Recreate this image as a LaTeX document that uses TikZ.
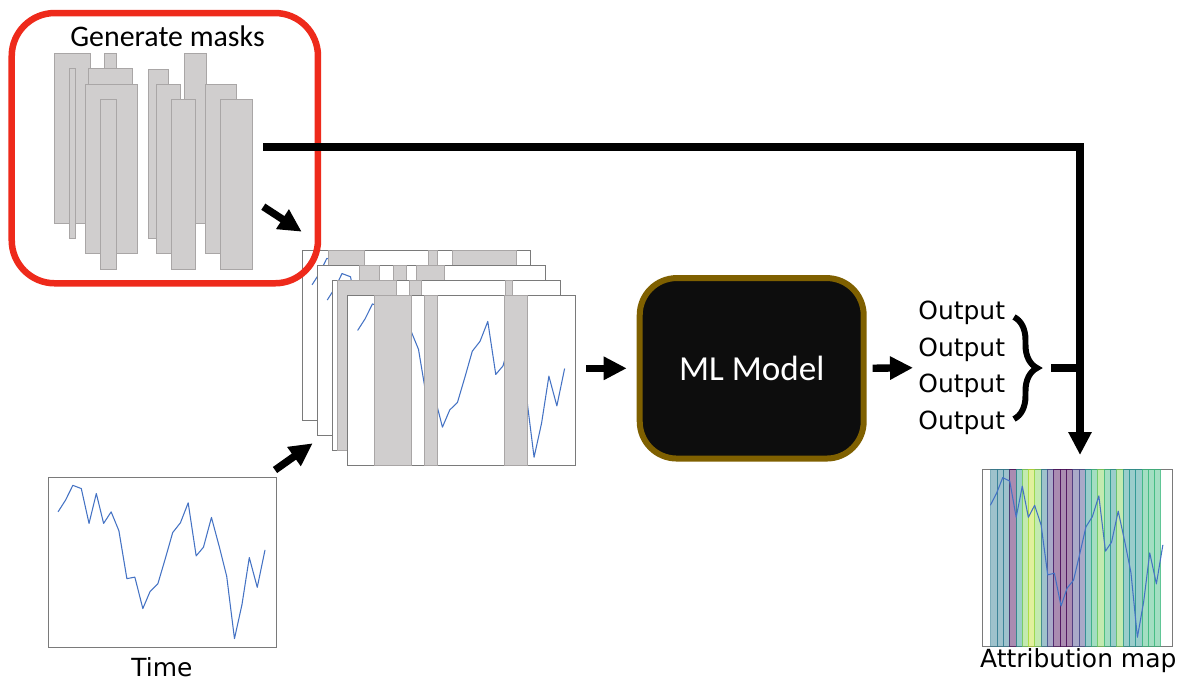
\documentclass[tikz,border=0pt]{standalone}
\usepackage{fontspec}
\setmainfont{Carlito}
\newfontfamily\djv{DejaVu Sans}
\usetikzlibrary{arrows.meta, decorations.pathreplacing, calc}

\definecolor{maskfill}{HTML}{D0CECE}
\definecolor{maskline}{HTML}{A9A6A6}
\definecolor{tsblue}{HTML}{4472C4}
\definecolor{panelgray}{HTML}{7A7A7A}
\definecolor{maskred}{HTML}{EE2A1B}
\definecolor{modelgold}{HTML}{7F6000}
\definecolor{modelfill}{HTML}{0D0D0D}
\definecolor{vpurple}{HTML}{440154}
\definecolor{vlav}{HTML}{414487}
\definecolor{vblue}{HTML}{2A788E}
\definecolor{vteal}{HTML}{21918C}
\definecolor{vgreen}{HTML}{35B779}
\definecolor{vlgreen}{HTML}{7AD151}
\definecolor{vyellow}{HTML}{BDDF26}

\tikzset{
  maskbar/.style={fill=maskfill, draw=maskline, line width=0.5pt},
  panel/.style={draw=panelgray, fill=white, line width=0.5pt, minimum width=4.56cm, minimum height=3.4cm, inner sep=0pt, outer sep=0pt, anchor=north west},
  tsstroke/.style={draw=tsblue, line width=0.6pt, line join=round},
  stripe/.style={fill=#1, draw=#1, fill opacity=0.45, draw opacity=0.6, line width=0.4pt},
  conn/.style={line width=4.2pt},
  arr/.style={line width=4.2pt, -{Triangle[length=0.46cm, width=0.44cm]}},
  lbl/.style={font=\djv\fontsize{14.2}{20.8}\selectfont},
  outbrace/.style={decorate, decoration={brace, amplitude=0.46cm}, line width=3.4pt},
}

\newcommand{\drawts}{\draw[tsstroke] (0.044,0.205) -- (0.077,0.136) -- (0.109,0.049) -- (0.146,0.068) -- (0.180,0.273) -- (0.212,0.097) -- (0.244,0.273) -- (0.277,0.205) -- (0.311,0.316) -- (0.346,0.598) -- (0.381,0.589) -- (0.416,0.774) -- (0.448,0.673) -- (0.482,0.628) -- (0.515,0.478) -- (0.547,0.327) -- (0.581,0.269) -- (0.615,0.152) -- (0.650,0.464) -- (0.682,0.413) -- (0.717,0.238) -- (0.752,0.413) -- (0.784,0.585) -- (0.818,0.951) -- (0.851,0.750) -- (0.883,0.474) -- (0.918,0.649) -- (0.952,0.429);}

\begin{document}
\begin{tikzpicture}[x=0.02cm, y=-0.02cm]
  \useasboundingbox (0,0) rectangle (1200,684);

  % masks
  \foreach \xa/\ya/\xb/\yb in {54/53.3/90/223.3, 69/68.3/75.3/238.3, 104/53.3/116.3/223.3, 88.3/68.3/132/238.3, 85/84/137/253.3, 100/99.3/116.3/269.3, 148.3/69/168.3/238.3, 184.3/53.3/206/223.3, 156/84/180/253.3, 205.7/84/236.7/253.3, 171.7/99.3/195.7/269.3, 220.7/99.3/252.3/269.3}
    \filldraw[maskbar] (\xa,\ya) rectangle (\xb,\yb);

  % masked copies
  \foreach \fr/\fx/\fy/\cuts in {f1/302/250/{0.114/0.273,0.555/0.594,0.660/0.941}, f2/317.2/265.2/{0.187/0.275,0.336/0.391,0.434/0.559}, f3/332.4/280.4/{0.022/0.281,0.339/0.392,0.759/0.791}, f4/347.6/295.6/{0.118/0.278,0.338/0.392,0.689/0.787}} {
    \node[panel] (\fr) at (\fx,\fy) {};
    \begin{scope}[shift={(\fr.north west)}, x=4.56cm, y=-3.4cm]
      \drawts
      \foreach \a/\b in \cuts
        \filldraw[maskbar] (\a,0) rectangle (\b,1);
    \end{scope}
  }

  % input series
  \node[panel] (ts) at (48,477) {};
  \begin{scope}[shift={(ts.north west)}, x=4.56cm, y=-3.4cm]
    \drawts
  \end{scope}
  \node[lbl] (tslbl) at (162,667) {Time};

  \node[draw=modelgold, fill=modelfill, line width=0.12cm, rounded corners=0.74cm, minimum width=4.48cm, minimum height=3.61cm, text=white, font=\fontsize{20}{24}\selectfont] (ml) at (751.7,368.3) {ML Model};

  \node[lbl, align=center, inner sep=0pt] (outs) at (961.7,367.7) {Output\\Output\\Output\\Output};
  \draw[outbrace] (1014,317) -- (1014,419);
  \coordinate (brtip) at (1040,368);

  % attribution map
  \node[panel, minimum width=3.8cm, minimum height=3.54cm] (attr) at (982,469) {};
  \begin{scope}[shift={(attr.north west)}]
    \foreach \c [count=\k from 0] in {vblue,vblue,vblue,vpurple,vteal,vlgreen,vyellow,vlgreen,vblue,vlav,vpurple,vpurple,vpurple,vlav,vlav,vteal,vgreen,vlgreen,vgreen,vteal,vlgreen,vteal,vteal,vteal,vgreen,vgreen,vgreen}
      \filldraw[stripe=\c] ({8.7+6.3*\k},0) rectangle ++(6.3,177);
  \end{scope}
  \begin{scope}[shift={(attr.north west)}, x=3.8cm, y=-3.54cm]
    \drawts
  \end{scope}
  \node[lbl] (attrlbl) at (1078.3,661) {Attribution map};

  \node[draw=maskred, line width=0.13cm, rounded corners=0.86cm, minimum width=6.126cm, minimum height=5.406cm] (masks) at (164.85,148.15) {};
  \node[font=\fontsize{17}{20}\selectfont] (masktitle) at (167.5,36.7) {Generate masks};

  % connectors
  \coordinate (maskout) at (263,147);
  \coordinate (turn) at (1080,147);
  \coordinate (m2s) at (263.3,206.7);
  \coordinate (s2in) at (301.7,231.7);
  \coordinate (tsout) at (275,470);
  \coordinate (tsin) at (312.7,443.3);
  \draw[arr, shorten >=0.28cm] (maskout) -- (turn) -- (turn |- attr.north);
  \draw[arr] (m2s) -- (s2in);
  \draw[arr] (tsout) -- (tsin);
  \draw[arr, shorten <=0.21cm, shorten >=0.2cm] (f4.east |- ml.west) -- (ml.west);
  \draw[arr, shorten <=0.12cm, shorten >=0.1cm] (ml.east) -- (outs.west);
  \draw[conn, shorten <=0.22cm] (brtip) -- (brtip -| turn);
\end{tikzpicture}
\end{document}
